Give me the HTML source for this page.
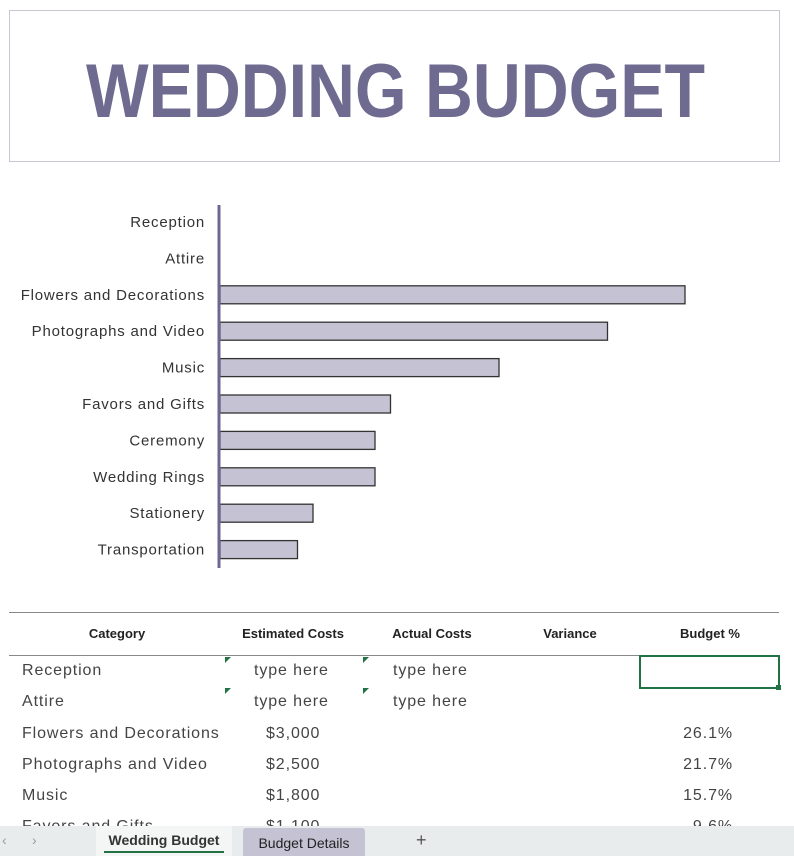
<!DOCTYPE html>
<html><head><meta charset="utf-8"><style>
body{margin:0;width:794px;height:856px;overflow:hidden;background:#fff;font-family:"Liberation Sans",sans-serif;position:relative}
.abs{position:absolute}
.hd{position:absolute;top:626px;font-size:13px;font-weight:bold;color:#222;transform:translateX(-50%)}
.cell{position:absolute;font-size:16px;color:#444;white-space:nowrap;letter-spacing:0.9px}
.tri{position:absolute;width:0;height:0;border-top:6px solid #217346;border-right:6px solid transparent}
</style></head><body>
<div class="abs" style="left:9px;top:10px;width:769px;height:150px;border:1px solid #c8c8d4"></div>
<svg class="abs" style="left:0;top:0" width="794" height="170">
<text x="86" y="117" textLength="619" lengthAdjust="spacingAndGlyphs" font-family="Liberation Sans" font-weight="bold" font-size="76" fill="#6f6a90">WEDDING BUDGET</text>
</svg>
<svg id="chart" class="abs" style="left:0;top:190px" width="794" height="400"></svg>
<script>
const categories=["Reception","Attire","Flowers and Decorations","Photographs and Video","Music","Favors and Gifts","Ceremony","Wedding Rings","Stationery","Transportation"];
const values=[0,0,3000,2500,1800,1100,1000,1000,600,500];
const svg=document.getElementById('chart');const NS="http://www.w3.org/2000/svg";
const x0=220,scale=0.155;const xs=v=>x0+v*scale;const yc=i=>32+i*36.4;
categories.forEach((c,i)=>{
 const t=document.createElementNS(NS,'text');
 
 
 t.setAttribute('x',205);t.setAttribute('y',yc(i)+5);t.setAttribute('text-anchor','end');
 t.setAttribute('font-size','15');t.setAttribute('fill','#333');t.setAttribute('font-family','Liberation Sans');
 t.setAttribute('letter-spacing','0.8');
 t.textContent=c;svg.appendChild(t);
 if(values[i]>0){const r=document.createElementNS(NS,'rect');
 
 
 r.setAttribute('x',x0);r.setAttribute('y',yc(i)-9);r.setAttribute('width',xs(values[i])-x0);r.setAttribute('height',18);
 r.setAttribute('fill','#c5c2d3');r.setAttribute('stroke','#333');r.setAttribute('stroke-width','1.3');svg.appendChild(r);}
});
const ax=document.createElementNS(NS,'line');


ax.setAttribute('x1',219);ax.setAttribute('x2',219);ax.setAttribute('y1',15);ax.setAttribute('y2',378);ax.setAttribute('stroke','#6f6790');ax.setAttribute('stroke-width','3');svg.appendChild(ax);
</script>
<div class="abs" style="left:9px;top:612px;width:770px;height:1px;background:#888"></div>
<div class="hd" style="left:117px">Category</div>
<div class="hd" style="left:293px">Estimated Costs</div>
<div class="hd" style="left:432px">Actual Costs</div>
<div class="hd" style="left:570px">Variance</div>
<div class="hd" style="left:710px">Budget %</div>
<div class="abs" style="left:9px;top:655px;width:770px;height:1px;background:#888"></div>
<div class="abs" style="left:639px;top:655px;width:137px;height:30px;border:2px solid #217346"></div>
<div class="abs" style="left:776px;top:685px;width:5px;height:5px;background:#217346"></div>
<div class="tri" style="left:225px;top:657px"></div>
<div class="tri" style="left:363px;top:657px"></div>
<div class="tri" style="left:225px;top:688px"></div>
<div class="tri" style="left:363px;top:688px"></div>
<div class="cell" style="left:22px;top:662px">Reception</div>
<div class="cell" style="left:254px;top:662px">type here</div>
<div class="cell" style="left:393px;top:662px">type here</div>
<div class="cell" style="left:22px;top:693px">Attire</div>
<div class="cell" style="left:254px;top:693px">type here</div>
<div class="cell" style="left:393px;top:693px">type here</div>
<div class="cell" style="left:22px;top:725px">Flowers and Decorations</div>
<div class="cell" style="left:266px;top:725px">$3,000</div>
<div class="cell" style="right:61px;top:725px">26.1%</div>
<div class="cell" style="left:22px;top:756px">Photographs and Video</div>
<div class="cell" style="left:266px;top:756px">$2,500</div>
<div class="cell" style="right:61px;top:756px">21.7%</div>
<div class="cell" style="left:22px;top:787px">Music</div>
<div class="cell" style="left:266px;top:787px">$1,800</div>
<div class="cell" style="right:61px;top:787px">15.7%</div>
<div class="cell" style="left:22px;top:818px">Favors and Gifts</div>
<div class="cell" style="left:266px;top:818px">$1,100</div>
<div class="cell" style="right:61px;top:818px">9.6%</div>
<div class="abs" style="left:0;top:826px;width:794px;height:30px;background:#e9ecec"></div>
<div class="abs" style="left:2px;top:832px;font-size:14px;color:#999">‹</div>
<div class="abs" style="left:32px;top:832px;font-size:14px;color:#999">›</div>
<div class="abs" style="left:96px;top:826px;width:136px;height:30px;background:#f4f5f5;font-size:14px;font-weight:bold;color:#333;text-align:center;line-height:28px">Wedding Budget<div style="position:absolute;left:8px;right:8px;bottom:3px;height:2px;background:#217346"></div></div>
<div class="abs" style="left:243px;top:828px;width:122px;height:28px;background:#c5c2d3;font-size:14px;color:#222;text-align:center;line-height:30px;border-radius:3px 3px 0 0">Budget Details</div>
<div class="abs" style="left:416px;top:830px;font-size:18px;color:#555">+</div>
</body></html>
